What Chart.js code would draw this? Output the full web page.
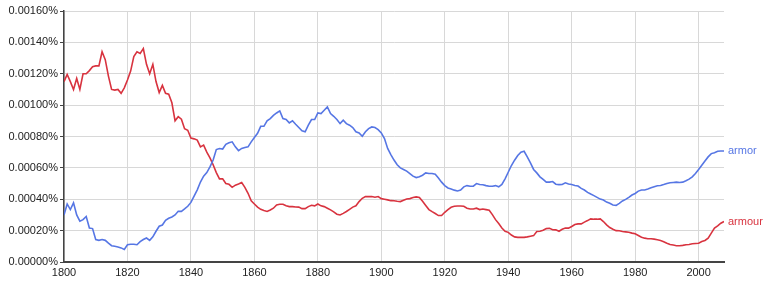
<!DOCTYPE html>
<html>
<head>
<meta charset="utf-8">
<script src="https://cdn.jsdelivr.net/npm/chart.js@4"></script>
<style>
  html, body { margin: 0; padding: 0; background: #fff; }
</style>
</head>
<body>
<canvas id="chart" width="768" height="286"></canvas>
<script>
// values are in units of 0.00001 %
const firstYear = 1800;
const years = Array.from({ length: 209 }, (_, i) => firstYear + i);
const yearTicks = [1800, 1820, 1840, 1860, 1880, 1900, 1920, 1940, 1960, 1980, 2000];

const armor = [
  30, 37, 33.4, 37.7, 30, 26, 27, 29, 21.7, 21.3,
  14.3, 13.8, 14.3, 13.8, 12, 10.4, 10, 9.6, 9, 8,
  11, 11.3, 11.3, 11, 13, 14.3, 15.3, 13.8, 16, 19.6,
  22.8, 23.6, 26.6, 27.9, 28.7, 30, 32.3, 32.3, 33.8, 35.5,
  38, 42, 46, 51, 54.7, 57, 60.6, 65, 71.7, 72.3,
  72, 75, 76, 76.6, 73.4, 71, 72.4, 73, 73.4, 76.6,
  79.4, 82, 86.5, 86.5, 90, 91.4, 93.5, 95, 96.3, 91.4,
  90.8, 88.7, 90, 87.8, 85.7, 83.6, 83, 87.2, 90.8, 90.8,
  95, 94.6, 96.7, 98.8, 94.6, 92.9, 90.8, 88.2, 90.4, 88.2,
  87.2, 85.7, 83, 82.3, 80.2, 83, 85, 86.1, 85.7, 84.4,
  82.3, 78.7, 72.4, 68.5, 65, 62, 60, 59, 57.9, 56.4,
  54.7, 53.8, 54.3, 55.3, 56.8, 56.4, 56.4, 56, 53.6, 50.9,
  48.7, 47.2, 46.6, 45.8, 45.3, 45.8, 47.9, 48.7, 48.3, 48.3,
  50, 49.4, 49.2, 48.7, 48.3, 48.3, 48.7, 47.9, 49.4, 53,
  57.2, 61.5, 64.9, 67.9, 70, 70.6, 67, 63.2, 59, 56.8,
  54.3, 52.6, 50.9, 50.9, 51.3, 49.6, 49.3, 49.4, 50.5, 49.7,
  49.4, 48.8, 48.4, 46.9, 45.9, 44.4, 43.3, 42.3, 41.2, 40.1,
  39.5, 38.2, 37.4, 36.3, 36.1, 37.4, 38.9, 39.9, 41.2, 42.7,
  43.7, 45.2, 45.9, 45.9, 46.5, 47.3, 48, 48.6, 48.8, 49.4,
  50.1, 50.5, 50.7, 50.9, 50.7, 50.9, 51.8, 52.8, 54.3, 56.4,
  59, 61.7, 64.4, 67, 69.1, 69.7, 70.6, 70.8, 70.8
];

const armour = [
  115, 119.6, 115, 110, 117, 110, 120, 120, 122, 124.5,
  125, 125, 134, 129, 118.5, 110, 109.6, 110, 107.5, 111,
  116, 121.7, 131, 134, 133, 136, 126, 120, 126, 115,
  108, 112.6, 107.5, 107, 101.5, 90, 92.6, 91, 85, 84,
  79, 78.5, 77.7, 73.4, 74.5, 70, 66.4, 62, 57, 53,
  53, 50, 49.5, 47.6, 49, 49.7, 50.6, 47.6, 43.8, 39,
  37, 35, 33.6, 32.8, 32.2, 33.2, 34.3, 36.4, 36.8, 36.8,
  35.8, 35.3, 35.3, 35.1, 35, 34, 34, 35.3, 36.2, 35.8,
  37, 35.8, 35.3, 34.3, 33.2, 32, 30.5, 30, 31, 32.2,
  33.6, 35, 35.8, 38.5, 40.6, 41.7, 41.7, 41.7, 41.3, 41.7,
  40.4, 40, 39.6, 39.1, 39, 38.7, 38.5, 39.4, 40.2, 40.4,
  41.1, 41.5, 41.1, 38.7, 36, 33.4, 32.1, 30.9, 29.6, 29.6,
  31.7, 33.4, 34.9, 35.5, 35.7, 35.7, 35.5, 34.3, 33.8, 33.8,
  34.3, 33.4, 33.8, 33.4, 33, 30.2, 27, 24.5, 21.7, 19.6,
  18.9, 17.2, 16, 15.7, 15.7, 15.7, 16, 16.4, 16.8, 19.4,
  19.6, 20.2, 21.3, 21.5, 20.6, 20.5, 19.6, 20.9, 21.6, 21.6,
  22.6, 23.9, 24.3, 24.3, 25.4, 26.4, 27.5, 27.3, 27.3, 27.5,
  25.8, 23.7, 22, 20.9, 20, 19.9, 19.4, 19.2, 19, 18.4,
  18, 16.9, 15.8, 15.2, 14.8, 14.8, 14.6, 14.2, 13.7, 12.9,
  12, 11.2, 10.8, 10.4, 10.4, 10.6, 11, 11.2, 11.6, 11.8,
  12, 13.1, 13.7, 15.2, 18.4, 21.6, 23, 24.7, 25.8
];

const seriesNames = ["armor", "armour"];
const seriesColors = ["#5676e4", "#d8333f"];

const toPoints = vals => vals.map((v, i) => ({ x: years[i], y: v }));

const fontSpec = { family: "'Liberation Sans', Arial, sans-serif", size: 11 };

// writes the series name just right of each line's last point
const endLabels = {
  id: "endLabels",
  afterDatasetsDraw(chart) {
    const c = chart.ctx;
    c.save();
    c.font = "11px 'Liberation Sans', Arial, sans-serif";
    c.textBaseline = "middle";
    c.textAlign = "left";
    chart.data.datasets.forEach((ds, i) => {
      const pts = chart.getDatasetMeta(i).data;
      const last = pts[pts.length - 1];
      c.fillStyle = ds.borderColor;
      c.fillText(ds.label, last.x + 4, last.y);
    });
    c.restore();
  }
};

new Chart(document.getElementById("chart"), {
  type: "line",
  data: {
    datasets: [
      {
        label: seriesNames[0],
        data: toPoints(armor),
        borderColor: seriesColors[0],
        borderWidth: 1.6,
        pointRadius: 0,
        fill: false
      },
      {
        label: seriesNames[1],
        data: toPoints(armour),
        borderColor: seriesColors[1],
        borderWidth: 1.6,
        pointRadius: 0,
        fill: false
      }
    ]
  },
  options: {
    responsive: false,
    animation: false,
    devicePixelRatio: 1,
    layout: { padding: { top: 11, right: 44, left: 0, bottom: 0 } },
    plugins: {
      legend: { display: false },
      tooltip: { enabled: false }
    },
    scales: {
      x: {
        type: "linear",
        min: 1800,
        max: 2008,
        afterBuildTicks: scale => {
          scale.ticks = yearTicks.map(v => ({ value: v }));
        },
        afterFit: scale => { scale.height = 24; },
        ticks: {
          padding: 4,
          color: "#222",
          font: fontSpec,
          maxRotation: 0,
          autoSkip: false,
          callback: v => String(v)
        },
        grid: { color: "#d8d8d8", lineWidth: 1, drawTicks: false },
        border: { color: "#444", width: 2 }
      },
      y: {
        min: 0,
        max: 160,
        afterFit: scale => { scale.width = 64; },
        ticks: {
          stepSize: 20,
          padding: 2,
          color: "#222",
          font: fontSpec,
          callback: v => (v / 100000).toFixed(5) + "%"
        },
        grid: { color: "#d8d8d8", lineWidth: 1, tickLength: 4, tickColor: "#444" },
        border: { color: "#444", width: 1.5 }
      }
    }
  },
  plugins: [endLabels]
});
</script>
</body>
</html>
